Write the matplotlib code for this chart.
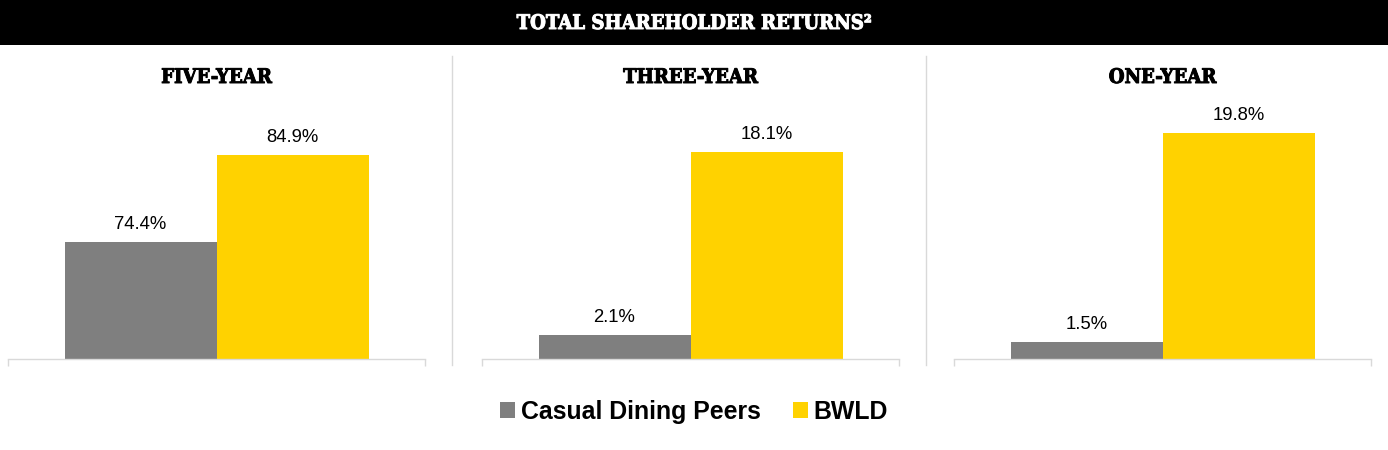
import matplotlib
matplotlib.use("Agg")
import matplotlib.pyplot as plt
import matplotlib.patheffects as pe
from matplotlib.lines import Line2D
from matplotlib.patches import Rectangle

# data
periods = ["FIVE-YEAR", "THREE-YEAR", "ONE-YEAR"]
series_names = ["Casual Dining Peers", "BWLD"]
peers = [74.4, 2.1, 1.5]
bwld = [84.9, 18.1, 19.8]
chart_title = "TOTAL SHAREHOLDER RETURNS\u00b2"

gray = "#7F7F7F"
yellow = "#FFD200"
axis_gray = "#D9D9D9"

W, H = 1388, 450
fig = plt.figure(figsize=(W / 100, H / 100), dpi=100)
fig.patch.set_facecolor("white")

head_font = dict(family="DejaVu Serif", weight="bold", stretch="condensed")
body_font = ["Liberation Sans", "DejaVu Sans"]

# black header band
fig.add_artist(Rectangle((0, 1 - 45 / H), 1, 45 / H, transform=fig.transFigure,
                         facecolor="black", edgecolor="none", zorder=0))
fig.text(0.5, 1 - 23 / H, chart_title, color="white", ha="center", va="center",
         fontsize=14.5, path_effects=[pe.withStroke(linewidth=0.7, foreground="white")],
         **head_font)

# panel geometry (pixels) and value ranges
lefts = [8, 482, 954]
ax_w = 417
base_y = 359
ax_h = 259
ylims = [(60.28, 91.54), (0, 22.68), (0, 22.68)]
bar_w = 152 / ax_w

handles = None
for i, period in enumerate(periods):
    ax = fig.add_axes([lefts[i] / W, 1 - base_y / H, ax_w / W, ax_h / H])
    b1 = ax.bar(-bar_w / 2, peers[i], bar_w, bottom=0, color=gray, zorder=2)
    b2 = ax.bar(bar_w / 2, bwld[i], bar_w, bottom=0, color=yellow, zorder=2)
    handles = [b1, b2]
    ax.set_xlim(-0.5, 0.5)
    ax.set_ylim(*ylims[i])
    for x, v in [(-bar_w / 2, peers[i]), (bar_w / 2, bwld[i])]:
        ax.annotate(f"{v:.1f}%", (x, v), xytext=(0, 9.5), textcoords="offset points",
                    ha="center", va="baseline", fontsize=13.3, family=body_font,
                    color="black", annotation_clip=False)
    for s in ["top", "left", "right"]:
        ax.spines[s].set_visible(False)
    ax.spines["bottom"].set_color(axis_gray)
    ax.spines["bottom"].set_linewidth(1.0)
    ax.set_yticks([])
    ax.set_xticks([-0.5, 0.5])
    ax.set_xticklabels([])
    ax.tick_params(axis="x", length=5, color=axis_gray, width=1.0, direction="out")
    ax.text(0.5, (base_y - 77) / ax_h, period, transform=ax.transAxes,
            ha="center", va="center", fontsize=14.5, color="black",
            path_effects=[pe.withStroke(linewidth=0.7, foreground="black")], **head_font)

# vertical separators between panels
for xs in [452, 926]:
    fig.add_artist(Line2D([xs / W, xs / W], [1 - 56 / H, 1 - 365 / H],
                          transform=fig.transFigure, color=axis_gray, linewidth=1.0))

leg = fig.legend(handles, series_names, loc="center", bbox_to_anchor=(0.5, 1 - 412 / H),
                 ncol=2, frameon=False, handlelength=0.62, handleheight=0.62,
                 handletextpad=0.22, columnspacing=1.3,
                 prop=dict(family=body_font, weight="bold", size=17.9))

fig.savefig("out.png", dpi=100)
